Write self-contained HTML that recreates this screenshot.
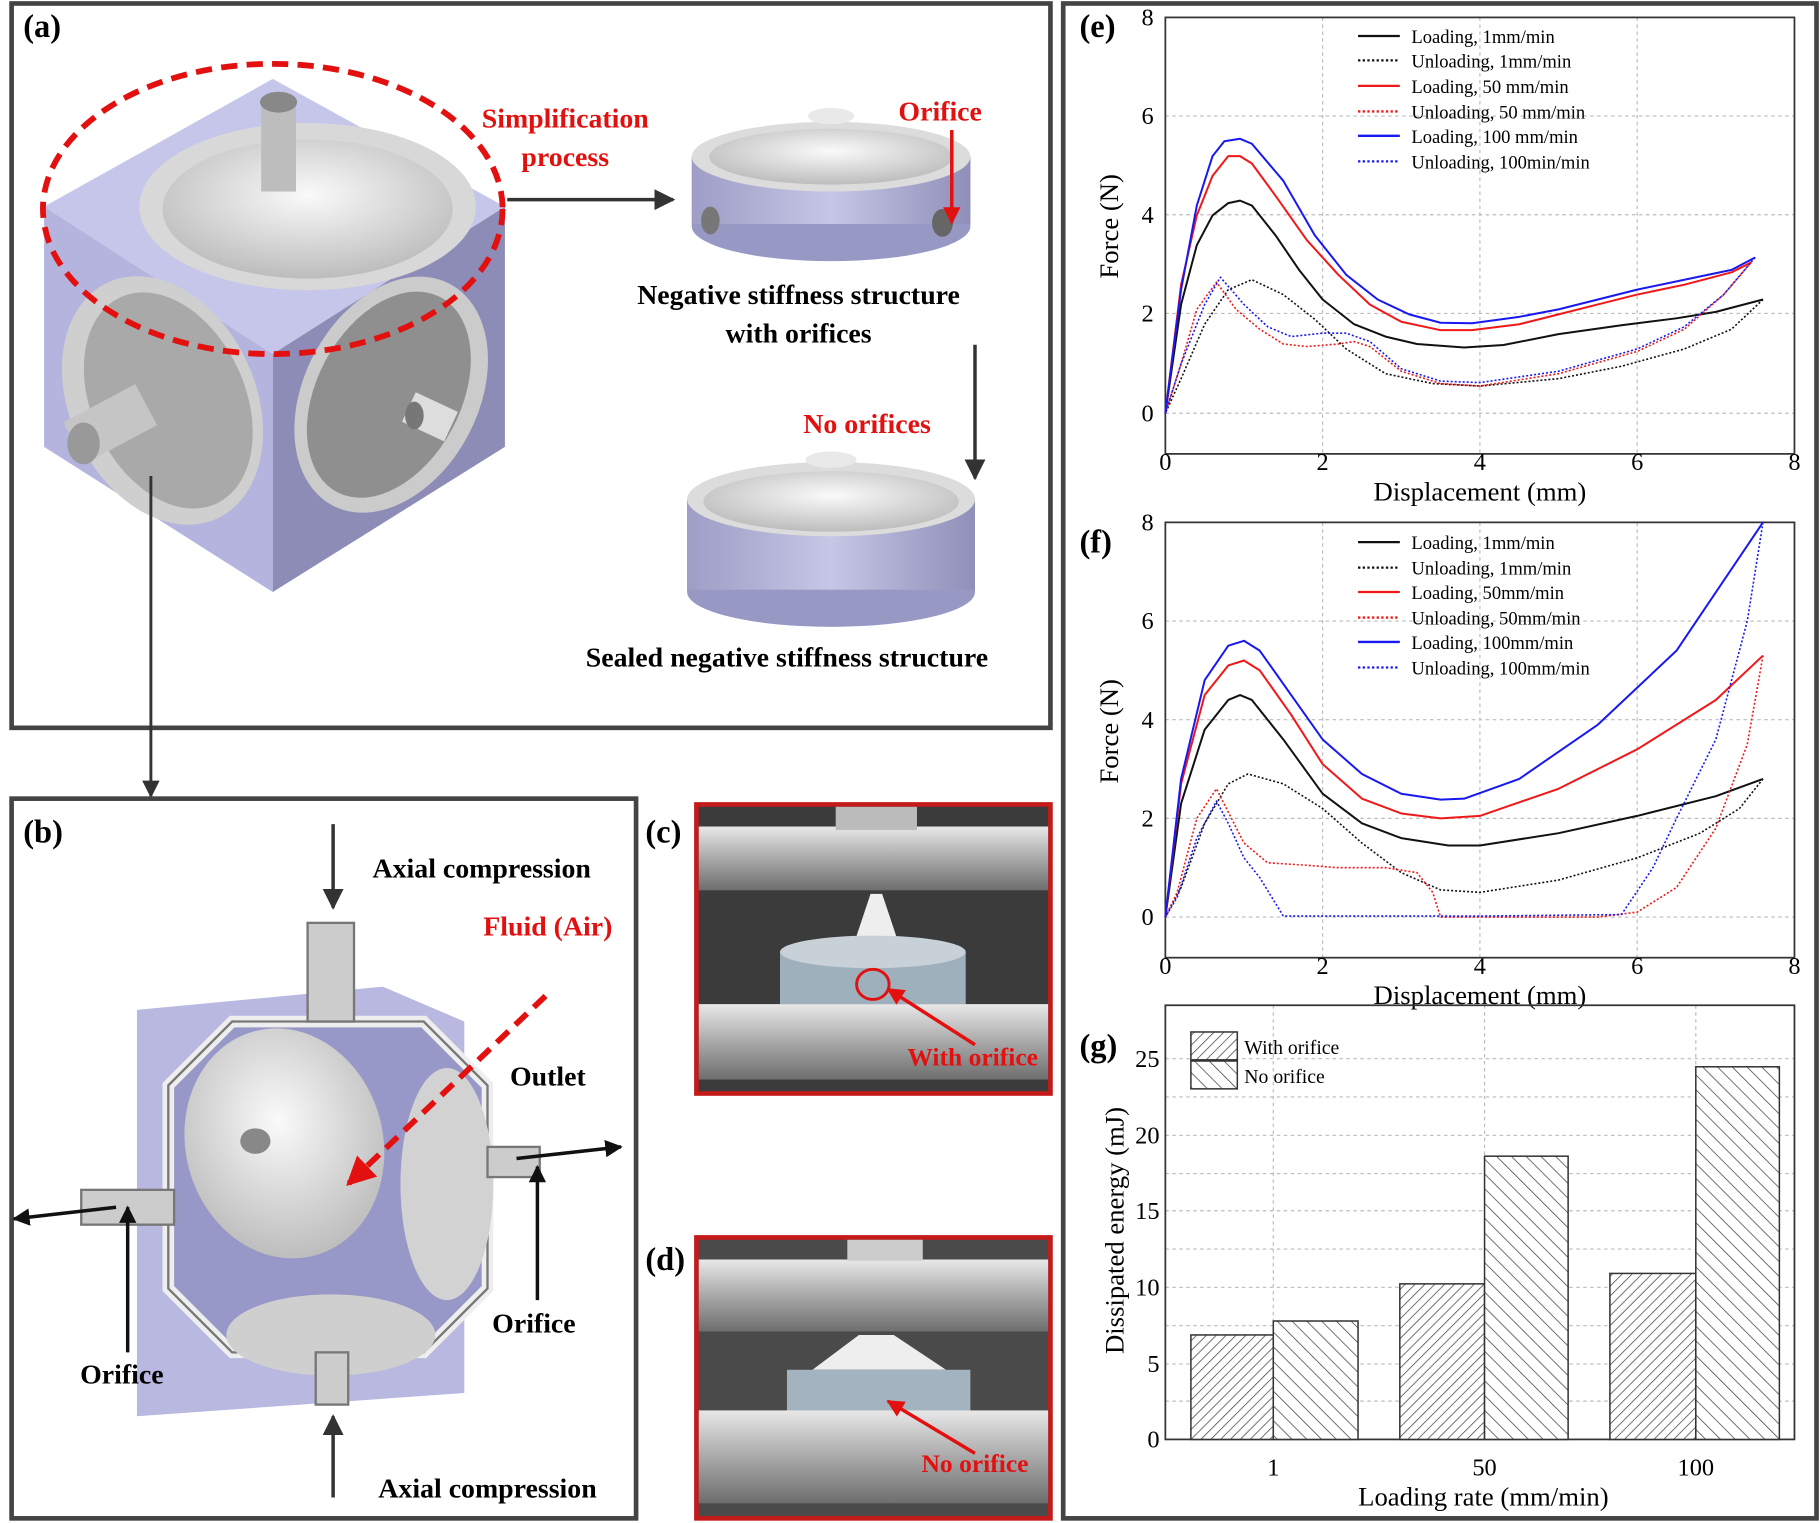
<!DOCTYPE html>
<html><head><meta charset="utf-8"><style>
html,body{margin:0;padding:0;background:#fff}
svg{display:block}
text{font-family:"Liberation Serif",serif}
.b{font-weight:bold}
</style></head><body>
<svg width="1820" height="1523" viewBox="0 0 1568 1312" preserveAspectRatio="none" xmlns="http://www.w3.org/2000/svg">
<defs>
<marker id="ah" viewBox="0 0 10 10" refX="9" refY="5" markerWidth="6" markerHeight="6" orient="auto"><path d="M0,0L10,5L0,10z" fill="#333"/></marker>
<marker id="ahr" viewBox="0 0 10 10" refX="9" refY="5" markerWidth="5" markerHeight="5" orient="auto"><path d="M0,0L10,5L0,10z" fill="#e31010"/></marker>
<marker id="ahk" viewBox="0 0 10 10" refX="9" refY="5" markerWidth="5" markerHeight="5" orient="auto"><path d="M0,0L10,5L0,10z" fill="#111"/></marker>
<pattern id="h1" width="6" height="6" patternUnits="userSpaceOnUse" patternTransform="rotate(45)"><rect width="6" height="6" fill="#fff"/><line x1="0" y1="0" x2="0" y2="6" stroke="#444" stroke-width="1.3"/></pattern>
<pattern id="h2" width="9" height="9" patternUnits="userSpaceOnUse" patternTransform="rotate(-45)"><rect width="9" height="9" fill="#fff"/><line x1="0" y1="0" x2="0" y2="9" stroke="#444" stroke-width="1.3"/></pattern>
<linearGradient id="met" x1="0" y1="0" x2="0" y2="1"><stop offset="0" stop-color="#e8e8e8"/><stop offset="0.5" stop-color="#a9a9a9"/><stop offset="1" stop-color="#6e6e6e"/></linearGradient>
<radialGradient id="cone" cx="0.5" cy="0.4" r="0.6"><stop offset="0" stop-color="#fafafa"/><stop offset="1" stop-color="#bdbdbd"/></radialGradient>
<linearGradient id="cyl" x1="0" y1="0" x2="1" y2="0"><stop offset="0" stop-color="#9d9dc6"/><stop offset="0.5" stop-color="#c6c6e6"/><stop offset="1" stop-color="#8f8fb9"/></linearGradient>
</defs>
<rect width="1568" height="1312" fill="#fff"/>

<!-- Panel a -->
<rect x="10" y="3" width="895" height="624" fill="#fff" stroke="#444" stroke-width="4"/>
<text x="20" y="32" font-size="28" class="b">(a)</text>
<polygon points="38,178 235,68 435,178 235,305" fill="#c6c6ea"/>
<polygon points="38,178 235,305 235,510 38,385" fill="#b4b4de"/>
<polygon points="235,305 435,178 435,385 235,510" fill="#8c8cb6"/>
<ellipse cx="265" cy="178" rx="145" ry="72" fill="#d8d8d8"/>
<ellipse cx="265" cy="180" rx="125" ry="60" fill="url(#cone)"/>
<rect x="225" y="85" width="30" height="80" fill="#bdbdbd"/>
<ellipse cx="240" cy="88" rx="16" ry="9" fill="#888"/>
<ellipse cx="140" cy="345" rx="80" ry="112" fill="#cfcfcf" transform="rotate(-25 140 345)"/>
<ellipse cx="145" cy="345" rx="66" ry="98" fill="#a9a9a9" transform="rotate(-25 145 345)"/>
<rect x="60" y="345" width="70" height="40" fill="#c5c5c5" transform="rotate(-28 95 365)"/>
<ellipse cx="72" cy="382" rx="14" ry="18" fill="#999"/>
<ellipse cx="337" cy="340" rx="75" ry="108" fill="#cbcbcb" transform="rotate(28 337 340)"/>
<ellipse cx="335" cy="340" rx="62" ry="95" fill="#8f8f8f" transform="rotate(28 335 340)"/>
<rect x="350" y="345" width="40" height="28" fill="#ddd" transform="rotate(25 370 360)"/>
<ellipse cx="357" cy="358" rx="8" ry="12" fill="#777"/>
<ellipse cx="235" cy="180" rx="198" ry="125" fill="none" stroke="#e31010" stroke-width="5" stroke-dasharray="14,8"/>
<text x="487" y="110" font-size="24" class="b" fill="#e31010" text-anchor="middle">Simplification</text>
<text x="487" y="143" font-size="24" class="b" fill="#e31010" text-anchor="middle">process</text>
<line x1="437" y1="172" x2="580" y2="172" stroke="#333" stroke-width="3" marker-end="url(#ah)"/>
<rect x="596" y="135" width="240" height="60" fill="url(#cyl)"/>
<ellipse cx="716" cy="195" rx="120" ry="30" fill="#9898c4"/>
<rect x="596" y="135" width="240" height="58" fill="url(#cyl)"/>
<ellipse cx="716" cy="135" rx="120" ry="30" fill="#dcdcdc"/>
<ellipse cx="716" cy="135" rx="105" ry="24" fill="url(#cone)"/>
<ellipse cx="716" cy="100" rx="20" ry="7" fill="#e9e9e9"/>
<ellipse cx="612" cy="190" rx="8" ry="12" fill="#777"/><ellipse cx="812" cy="192" rx="9" ry="12" fill="#666"/>
<text x="810" y="104" font-size="24" class="b" fill="#e31010" text-anchor="middle">Orifice</text>
<line x1="820" y1="112" x2="820" y2="192" stroke="#e31010" stroke-width="3" marker-end="url(#ahr)"/>
<text x="688" y="262" font-size="24" class="b" text-anchor="middle">Negative stiffness structure</text>
<text x="688" y="295" font-size="24" class="b" text-anchor="middle">with orifices</text>
<line x1="840" y1="297" x2="840" y2="412" stroke="#333" stroke-width="3" marker-end="url(#ah)"/>
<text x="747" y="373" font-size="24" class="b" fill="#e31010" text-anchor="middle">No orifices</text>
<rect x="592" y="430" width="248" height="80" fill="url(#cyl)"/>
<ellipse cx="716" cy="510" rx="124" ry="30" fill="#9898c4"/>
<rect x="592" y="430" width="248" height="78" fill="url(#cyl)"/>
<ellipse cx="716" cy="430" rx="124" ry="32" fill="#dcdcdc"/>
<ellipse cx="716" cy="432" rx="110" ry="26" fill="url(#cone)"/>
<ellipse cx="716" cy="396" rx="22" ry="7" fill="#e9e9e9"/>
<text x="678" y="574" font-size="24" class="b" text-anchor="middle">Sealed negative stiffness structure</text>
<line x1="130" y1="410" x2="130" y2="686" stroke="#333" stroke-width="2.5" marker-end="url(#ah)"/>

<!-- Panel b -->
<rect x="10" y="688" width="538" height="620" fill="#fff" stroke="#444" stroke-width="4"/>
<text x="20" y="726" font-size="28" class="b">(b)</text>
<polygon points="118,870 330,850 400,880 400,1200 118,1220" fill="#b8b8e0"/>
<polygon points="200,880 365,880 420,935 420,1110 365,1165 200,1165 145,1110 145,935" fill="#9898c8" stroke="#eee" stroke-width="10"/>
<polygon points="200,880 365,880 420,935 420,1110 365,1165 200,1165 145,1110 145,935" fill="none" stroke="#777" stroke-width="2"/>
<ellipse cx="245" cy="985" rx="85" ry="100" fill="url(#cone)" transform="rotate(-15 245 985)"/>
<ellipse cx="220" cy="983" rx="13" ry="11" fill="#888"/>
<ellipse cx="385" cy="1020" rx="40" ry="100" fill="#d2d2d2"/>
<ellipse cx="285" cy="1150" rx="90" ry="35" fill="#cfcfcf"/>
<rect x="265" y="795" width="40" height="85" fill="#ccc" stroke="#777" stroke-width="2"/>
<rect x="272" y="1165" width="28" height="45" fill="#ccc" stroke="#777" stroke-width="2"/>
<rect x="70" y="1025" width="80" height="30" fill="#ccc" stroke="#777" stroke-width="2"/>
<rect x="420" y="988" width="45" height="26" fill="#ccc" stroke="#777" stroke-width="2"/>
<line x1="287" y1="710" x2="287" y2="782" stroke="#333" stroke-width="3" marker-end="url(#ah)"/>
<text x="415" y="756" font-size="24" class="b" text-anchor="middle">Axial compression</text>
<text x="472" y="806" font-size="24" class="b" fill="#e31010" text-anchor="middle">Fluid (Air)</text>
<line x1="470" y1="858" x2="300" y2="1020" stroke="#e31010" stroke-width="5" stroke-dasharray="14,8" marker-end="url(#ahr)"/>
<text x="472" y="935" font-size="24" class="b" text-anchor="middle">Outlet</text>
<line x1="445" y1="998" x2="535" y2="988" stroke="#111" stroke-width="3" marker-end="url(#ahk)"/>
<line x1="100" y1="1040" x2="12" y2="1050" stroke="#111" stroke-width="3" marker-end="url(#ahk)"/>
<line x1="110" y1="1165" x2="110" y2="1040" stroke="#111" stroke-width="3" marker-end="url(#ahk)"/>
<text x="105" y="1192" font-size="24" class="b" text-anchor="middle">Orifice</text>
<line x1="463" y1="1120" x2="463" y2="1005" stroke="#111" stroke-width="3" marker-end="url(#ahk)"/>
<text x="460" y="1148" font-size="24" class="b" text-anchor="middle">Orifice</text>
<line x1="287" y1="1290" x2="287" y2="1220" stroke="#333" stroke-width="3" marker-end="url(#ah)"/>
<text x="420" y="1290" font-size="24" class="b" text-anchor="middle">Axial compression</text>

<!-- Panel c -->
<text x="556" y="726" font-size="28" class="b">(c)</text>
<rect x="600" y="693" width="305" height="249" fill="#3b3b3b" stroke="#c41a1a" stroke-width="4"/>
<rect x="602" y="712" width="301" height="55" fill="url(#met)"/>
<rect x="720" y="695" width="70" height="20" fill="#bbb"/>
<polygon points="730,830 750,770 760,770 780,830" fill="#eee"/>
<rect x="672" y="820" width="160" height="45" fill="#9fb0bd"/>
<ellipse cx="752" cy="820" rx="80" ry="14" fill="#c9d1d8"/>
<rect x="602" y="865" width="301" height="65" fill="url(#met)"/>
<ellipse cx="752" cy="848" rx="14" ry="13" fill="none" stroke="#e31010" stroke-width="2.5"/>
<line x1="840" y1="900" x2="765" y2="852" stroke="#e31010" stroke-width="3" marker-end="url(#ahr)"/>
<text x="838" y="918" font-size="22" class="b" fill="#e31010" text-anchor="middle">With orifice</text>
<!-- Panel d -->
<text x="556" y="1094" font-size="28" class="b">(d)</text>
<rect x="600" y="1066" width="305" height="242" fill="#4a4a4a" stroke="#c41a1a" stroke-width="4"/>
<rect x="602" y="1085" width="301" height="62" fill="url(#met)"/>
<rect x="730" y="1068" width="65" height="18" fill="#ccc"/>
<polygon points="700,1180 740,1150 770,1150 815,1180" fill="#eee"/>
<rect x="678" y="1180" width="158" height="40" fill="#a3b3bf"/>
<rect x="602" y="1215" width="301" height="80" fill="url(#met)"/>
<line x1="840" y1="1252" x2="765" y2="1207" stroke="#e31010" stroke-width="3" marker-end="url(#ahr)"/>
<text x="840" y="1268" font-size="22" class="b" fill="#e31010" text-anchor="middle">No orifice</text>

<!-- Right panel frame -->
<rect x="916" y="3" width="649" height="1305" fill="#fff" stroke="#444" stroke-width="4"/>

<!-- Plot e -->
<text x="930" y="32" font-size="28" class="b">(e)</text>
<g stroke="#bbb" stroke-width="1" stroke-dasharray="3,3">
<line x1="1139.5" y1="15" x2="1139.5" y2="391"/><line x1="1275" y1="15" x2="1275" y2="391"/><line x1="1410.5" y1="15" x2="1410.5" y2="391"/>
<line x1="1004" y1="100" x2="1546" y2="100"/><line x1="1004" y1="185" x2="1546" y2="185"/><line x1="1004" y1="270" x2="1546" y2="270"/><line x1="1004" y1="356" x2="1546" y2="356"/>
</g>
<rect x="1004" y="15" width="542" height="376" fill="none" stroke="#333" stroke-width="1.5"/>
<g font-size="21" text-anchor="end"><text x="994" y="22">8</text><text x="994" y="107">6</text><text x="994" y="192">4</text><text x="994" y="277">2</text><text x="994" y="363">0</text></g>
<g font-size="21" text-anchor="middle"><text x="1004" y="405">0</text><text x="1139.5" y="405">2</text><text x="1275" y="405">4</text><text x="1410.5" y="405">6</text><text x="1546" y="405">8</text></g>
<text x="1275" y="431" font-size="23" text-anchor="middle">Displacement (mm)</text>
<text transform="translate(963,195) rotate(-90)" font-size="23" text-anchor="middle">Force (N)</text>
<g font-size="16">
<line x1="1170" y1="31" x2="1206" y2="31" stroke="#111" stroke-width="2"/><text x="1216" y="37">Loading, 1mm/min</text>
<line x1="1170" y1="52" x2="1206" y2="52" stroke="#111" stroke-width="2" stroke-dasharray="2,2"/><text x="1216" y="58">Unloading, 1mm/min</text>
<line x1="1170" y1="74" x2="1206" y2="74" stroke="#f01818" stroke-width="2"/><text x="1216" y="80">Loading, 50 mm/min</text>
<line x1="1170" y1="96" x2="1206" y2="96" stroke="#f01818" stroke-width="2" stroke-dasharray="2,2"/><text x="1216" y="102">Unloading, 50 mm/min</text>
<line x1="1170" y1="117" x2="1206" y2="117" stroke="#1818f0" stroke-width="2"/><text x="1216" y="123">Loading, 100 mm/min</text>
<line x1="1170" y1="139" x2="1206" y2="139" stroke="#1818f0" stroke-width="2" stroke-dasharray="2,2"/><text x="1216" y="145">Unloading, 100min/min</text>
</g>
<g transform="translate(1004,356) scale(67.75,-42.6)" fill="none" stroke-linejoin="round">
<polyline vector-effect="non-scaling-stroke" stroke="#111" stroke-width="2" points="0,0 0.2,2.2 0.4,3.4 0.6,4.0 0.8,4.25 0.95,4.3 1.1,4.2 1.4,3.6 1.7,2.9 2,2.3 2.4,1.8 2.8,1.55 3.2,1.4 3.8,1.33 4.3,1.38 5,1.6 5.8,1.78 6.5,1.92 7,2.05 7.6,2.3"/>
<polyline vector-effect="non-scaling-stroke" stroke="#111" stroke-width="1.6" stroke-dasharray="2,2" points="7.6,2.3 7.2,1.7 6.6,1.3 5.8,0.95 5,0.7 4,0.55 3.4,0.6 2.8,0.8 2.3,1.3 1.9,1.9 1.5,2.4 1.1,2.7 0.8,2.5 0.5,1.8 0.2,0.7 0,0"/>
<polyline vector-effect="non-scaling-stroke" stroke="#f01818" stroke-width="2" points="0,0 0.2,2.6 0.4,4.0 0.6,4.8 0.8,5.2 0.95,5.2 1.1,5.05 1.4,4.4 1.8,3.5 2.2,2.8 2.6,2.2 3,1.85 3.5,1.68 3.9,1.68 4.5,1.8 5,2.0 5.5,2.2 6,2.4 6.6,2.6 7.2,2.85 7.45,3.05"/>
<polyline vector-effect="non-scaling-stroke" stroke="#f01818" stroke-width="1.6" stroke-dasharray="2,2" points="7.45,3.05 7.1,2.4 6.6,1.7 6,1.25 5,0.8 4,0.55 3.5,0.6 3,0.85 2.6,1.35 2.4,1.45 2.2,1.4 1.8,1.35 1.5,1.4 1.2,1.7 0.9,2.1 0.65,2.65 0.4,2.1 0.2,1.0 0,0"/>
<polyline vector-effect="non-scaling-stroke" stroke="#1818f0" stroke-width="2" points="0,0 0.2,2.5 0.4,4.2 0.6,5.2 0.75,5.5 0.95,5.55 1.1,5.45 1.5,4.7 1.9,3.6 2.3,2.8 2.7,2.3 3.1,2.0 3.5,1.83 3.9,1.82 4.5,1.95 5,2.1 5.5,2.3 6,2.5 6.6,2.7 7.2,2.9 7.5,3.15"/>
<polyline vector-effect="non-scaling-stroke" stroke="#1818f0" stroke-width="1.6" stroke-dasharray="2,2" points="7.5,3.15 7.1,2.4 6.6,1.75 6,1.3 5,0.85 4,0.62 3.5,0.65 3,0.9 2.6,1.45 2.3,1.62 2,1.62 1.6,1.55 1.3,1.75 1,2.2 0.7,2.75 0.5,2.2 0.2,1.0 0,0"/>
</g>

<!-- Plot f -->
<text x="930" y="476" font-size="28" class="b">(f)</text>
<g stroke="#bbb" stroke-width="1" stroke-dasharray="3,3">
<line x1="1139.5" y1="450" x2="1139.5" y2="825"/><line x1="1275" y1="450" x2="1275" y2="825"/><line x1="1410.5" y1="450" x2="1410.5" y2="825"/>
<line x1="1004" y1="535" x2="1546" y2="535"/><line x1="1004" y1="620" x2="1546" y2="620"/><line x1="1004" y1="705" x2="1546" y2="705"/><line x1="1004" y1="790" x2="1546" y2="790"/>
</g>
<rect x="1004" y="450" width="542" height="375" fill="none" stroke="#333" stroke-width="1.5"/>
<g font-size="21" text-anchor="end"><text x="994" y="457">8</text><text x="994" y="542">6</text><text x="994" y="627">4</text><text x="994" y="712">2</text><text x="994" y="797">0</text></g>
<g font-size="21" text-anchor="middle"><text x="1004" y="839">0</text><text x="1139.5" y="839">2</text><text x="1275" y="839">4</text><text x="1410.5" y="839">6</text><text x="1546" y="839">8</text></g>
<text x="1275" y="865" font-size="23" text-anchor="middle">Displacement (mm)</text>
<text transform="translate(963,630) rotate(-90)" font-size="23" text-anchor="middle">Force (N)</text>
<g font-size="16">
<line x1="1170" y1="467" x2="1206" y2="467" stroke="#111" stroke-width="2"/><text x="1216" y="473">Loading, 1mm/min</text>
<line x1="1170" y1="489" x2="1206" y2="489" stroke="#111" stroke-width="2" stroke-dasharray="2,2"/><text x="1216" y="495">Unloading, 1mm/min</text>
<line x1="1170" y1="510" x2="1206" y2="510" stroke="#f01818" stroke-width="2"/><text x="1216" y="516">Loading, 50mm/min</text>
<line x1="1170" y1="532" x2="1206" y2="532" stroke="#f01818" stroke-width="2" stroke-dasharray="2,2"/><text x="1216" y="538">Unloading, 50mm/min</text>
<line x1="1170" y1="553" x2="1206" y2="553" stroke="#1818f0" stroke-width="2"/><text x="1216" y="559">Loading, 100mm/min</text>
<line x1="1170" y1="575" x2="1206" y2="575" stroke="#1818f0" stroke-width="2" stroke-dasharray="2,2"/><text x="1216" y="581">Unloading, 100mm/min</text>
</g>
<g transform="translate(1004,790) scale(67.75,-42.5)" fill="none" stroke-linejoin="round">
<polyline vector-effect="non-scaling-stroke" stroke="#111" stroke-width="2" points="0,0 0.2,2.3 0.5,3.8 0.8,4.4 0.95,4.5 1.1,4.4 1.5,3.6 2,2.5 2.5,1.9 3,1.6 3.6,1.45 4,1.45 5,1.7 6,2.05 7,2.45 7.6,2.8"/>
<polyline vector-effect="non-scaling-stroke" stroke="#111" stroke-width="1.6" stroke-dasharray="2,2" points="7.6,2.8 7.3,2.2 6.8,1.7 6,1.2 5,0.75 4,0.5 3.5,0.55 3,0.9 2.5,1.5 2,2.2 1.5,2.7 1.05,2.9 0.8,2.7 0.5,1.9 0.2,0.6 0,0"/>
<polyline vector-effect="non-scaling-stroke" stroke="#f01818" stroke-width="2" points="0,0 0.2,2.7 0.5,4.5 0.8,5.1 1.0,5.2 1.2,5.0 1.6,4.1 2,3.1 2.5,2.4 3,2.1 3.5,2.0 4,2.05 5,2.6 6,3.4 7,4.4 7.6,5.3"/>
<polyline vector-effect="non-scaling-stroke" stroke="#f01818" stroke-width="1.6" stroke-dasharray="2,2" points="7.6,5.3 7.4,3.5 7,1.8 6.5,0.6 6,0.1 5.5,0 4,0 3.5,0 3.4,0.5 3.2,0.9 2.8,1.0 2.2,1.0 1.8,1.05 1.3,1.1 1,1.5 0.65,2.6 0.4,2.0 0.15,0.5 0,0"/>
<polyline vector-effect="non-scaling-stroke" stroke="#1818f0" stroke-width="2" points="0,0 0.2,2.8 0.5,4.8 0.8,5.5 1.0,5.6 1.2,5.4 1.6,4.5 2,3.6 2.5,2.9 3,2.5 3.5,2.38 3.8,2.4 4.5,2.8 5.5,3.9 6.5,5.4 7.6,8.0"/>
<polyline vector-effect="non-scaling-stroke" stroke="#1818f0" stroke-width="1.6" stroke-dasharray="2,2" points="7.6,8.0 7.4,6 7,3.6 6.5,2.0 6.2,1.0 5.8,0.05 4,0.02 2,0.02 1.5,0.02 1.2,0.8 1,1.2 0.8,1.9 0.65,2.35 0.4,1.6 0.15,0.4 0,0"/>
</g>

<!-- Plot g -->
<text x="930" y="910" font-size="28" class="b">(g)</text>
<g stroke="#bbb" stroke-width="1" stroke-dasharray="3,3">
<line x1="1279" y1="866" x2="1279" y2="1240"/><line x1="1461" y1="866" x2="1461" y2="1240"/><line x1="1097" y1="866" x2="1097" y2="1240"/>
<line x1="1004" y1="912" x2="1546" y2="912"/><line x1="1004" y1="978" x2="1546" y2="978"/><line x1="1004" y1="1043" x2="1546" y2="1043"/><line x1="1004" y1="1109" x2="1546" y2="1109"/><line x1="1004" y1="1175" x2="1546" y2="1175"/>
<line x1="1004" y1="945" x2="1546" y2="945"/><line x1="1004" y1="1011" x2="1546" y2="1011"/><line x1="1004" y1="1076" x2="1546" y2="1076"/><line x1="1004" y1="1142" x2="1546" y2="1142"/><line x1="1004" y1="1207" x2="1546" y2="1207"/>
</g>
<rect x="1004" y="866" width="542" height="374" fill="none" stroke="#333" stroke-width="1.5"/>
<g stroke="#333" stroke-width="1.3">
<rect x="1026" y="1150" width="71" height="90" fill="url(#h1)"/>
<rect x="1097" y="1138" width="73" height="102" fill="url(#h2)"/>
<rect x="1206" y="1106" width="73" height="134" fill="url(#h1)"/>
<rect x="1279" y="996" width="72" height="244" fill="url(#h2)"/>
<rect x="1387" y="1097" width="74" height="143" fill="url(#h1)"/>
<rect x="1461" y="919" width="72" height="321" fill="url(#h2)"/>
<rect x="1026" y="889" width="40" height="24" fill="url(#h1)"/>
<rect x="1026" y="914" width="40" height="24" fill="url(#h2)"/>
</g>
<g font-size="17"><text x="1072" y="908">With orifice</text><text x="1072" y="933">No orifice</text></g>
<g font-size="21" text-anchor="end"><text x="999" y="919">25</text><text x="999" y="985">20</text><text x="999" y="1050">15</text><text x="999" y="1116">10</text><text x="999" y="1182">5</text><text x="999" y="1247">0</text></g>
<g font-size="21" text-anchor="middle"><text x="1097" y="1271">1</text><text x="1279" y="1271">50</text><text x="1461" y="1271">100</text></g>
<text x="1278" y="1297" font-size="23" text-anchor="middle">Loading rate (mm/min)</text>
<text transform="translate(968,1060) rotate(-90)" font-size="23" text-anchor="middle">Dissipated energy (mJ)</text>
</svg>
</body></html>
